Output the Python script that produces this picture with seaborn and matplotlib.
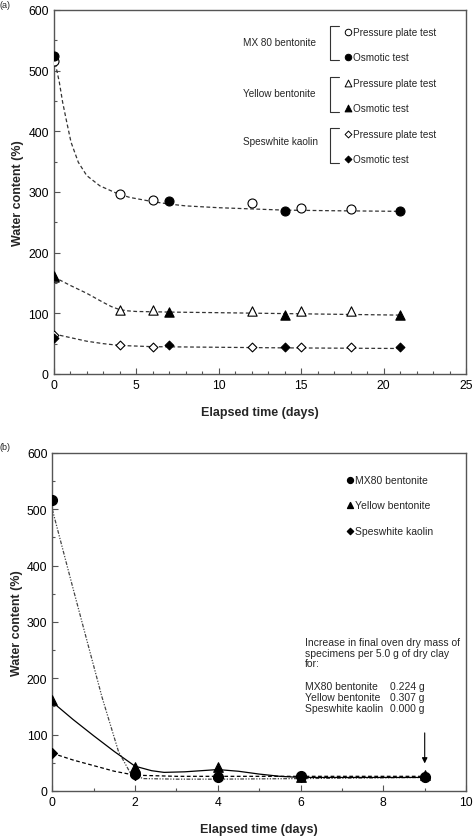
import numpy as np
import pandas as pd
import seaborn as sns
import matplotlib.pyplot as plt
from matplotlib.ticker import MultipleLocator

sns.set_style('ticks')
plt.rcParams['font.family'] = ['Liberation Sans', 'DejaVu Sans']

# ---- (a) measured points ----
pp_days = [0, 4, 6, 12, 15, 18]
osm_days = [0, 7, 14, 21]
mx80_pp = [516, 297, 287, 281, 273, 272]
mx80_osm = [524, 285, 269, 269]
yellow_pp = [160, 106, 105, 104, 103, 103]
yellow_osm = [162, 102, 97, 97]
kaolin_pp = [65, 47, 45, 45, 45, 44]
kaolin_osm = [60, 47, 44, 44]

# fitted dashed curves
mx80_fit_days = [0, 0.08, 0.34, 0.54, 0.79, 1.05, 1.49, 2.0, 2.8, 3.8, 4.6, 6, 7, 8, 10, 12, 14, 17, 21]
mx80_fit = [522, 514, 481, 448, 415, 382, 349, 327, 310, 298, 291, 284, 280, 277, 274, 272, 270, 269, 268]
yellow_fit_days = [0, 1, 2, 3, 3.5, 4, 4.5, 5, 7, 10, 14, 21]
yellow_fit = [160, 146, 133, 118, 111, 106, 104, 103, 102, 101, 99.5, 97]
kaolin_fit_days = [0, 1, 2, 3, 4, 5, 6, 10, 14, 21]
kaolin_fit = [66, 60, 54, 50, 47, 46, 45, 44, 43, 42]

# ---- (b) ----
b_days = [0, 2, 4, 6, 9]
b_mx80 = [517, 30, 24, 26, 24]
b_yellow = [162, 43, 42, 25, 28]
b_kaolin = [67, 28, 25, 24, 24]

b_mx80_line_days = [0, 0.5, 1.2, 1.6, 1.9, 2.2, 3, 4, 6, 9]
b_mx80_line = [500, 360, 167, 70, 30, 22, 21, 21, 22, 24]
b_yellow_line_days = [0, 0.5, 1, 1.5, 2, 2.4, 2.7, 3.2, 3.6, 4, 4.5, 5, 5.5, 6, 7, 8, 9]
b_yellow_line = [158, 127, 98, 70, 44, 36, 33, 34, 36, 38, 35, 30, 26, 24, 24, 24, 24]
b_kaolin_line_days = [0, 0.5, 1, 1.5, 2, 3, 4, 6, 9]
b_kaolin_line = [67, 55, 45, 35, 28, 26, 26, 26, 26]

materials_a = ['MX 80 bentonite', 'Yellow bentonite', 'Speswhite kaolin']
materials_b = ['MX80 bentonite', 'Yellow bentonite', 'Speswhite kaolin']
mass_increase = ['0.224 g', '0.307 g', '0.000 g']

frame = '#555555'
tick_fs = 8.8
label_fs = 9
small_fs = 7.2
note_fs = 7.5

fig, (ax1, ax2) = plt.subplots(2, 1, figsize=(4.74, 8.37), dpi=100)
ax1.set_position([0.1133, 0.552, 0.870, 0.435])
ax2.set_position([0.1103, 0.0538, 0.873, 0.4038])

dash = (0, (3, 2))

def scatter(ax, x, y, marker, filled, s):
    sns.scatterplot(x=x, y=y, ax=ax, marker=marker, s=s,
                    color='black' if filled else 'white',
                    edgecolor='black', linewidth=0.8, zorder=3, legend=False)

# ---- panel (a) ----
for d, v in [(mx80_fit_days, mx80_fit), (yellow_fit_days, yellow_fit), (kaolin_fit_days, kaolin_fit)]:
    sns.lineplot(x=d, y=v, ax=ax1, color='#333333', lw=0.9, linestyle=dash)

scatter(ax1, pp_days, mx80_pp, 'o', False, 42)
scatter(ax1, osm_days, mx80_osm, 'o', True, 42)
scatter(ax1, pp_days, yellow_pp, '^', False, 45)
scatter(ax1, osm_days, yellow_osm, '^', True, 45)
scatter(ax1, pp_days, kaolin_pp, 'D', False, 20)
scatter(ax1, osm_days, kaolin_osm, 'D', True, 20)

ax1.set_xlim(0, 25)
ax1.set_ylim(0, 600)
ax1.xaxis.set_major_locator(MultipleLocator(5))
ax1.xaxis.set_minor_locator(MultipleLocator(1))
ax1.yaxis.set_major_locator(MultipleLocator(100))
ax1.yaxis.set_minor_locator(MultipleLocator(50))

# manual legend for (a)
leg_rows = [(564, 523, 547), (480, 438, 463), (396, 354, 384)]
leg_markers = ['o', '^', 'D']
leg_sizes = [22, 24, 12]
for (y_pp, y_osm, y_lab), m, sz, name in zip(leg_rows, leg_markers, leg_sizes, materials_a):
    ax1.text(11.48, y_lab, name, fontsize=small_fs, ha='left', va='center')
    ax1.plot([17.3, 16.77, 16.77, 17.3], [y_pp + 10, y_pp + 10, y_osm - 6, y_osm - 6],
             color='#333333', lw=0.8)
    ax1.scatter([17.83], [y_pp], marker=m, s=sz, facecolor='white', edgecolor='black', lw=0.7, zorder=3)
    ax1.scatter([17.83], [y_osm], marker=m, s=sz, facecolor='black', edgecolor='black', lw=0.7, zorder=3)
    ax1.text(18.13, y_pp, 'Pressure plate test', fontsize=small_fs, ha='left', va='center')
    ax1.text(18.13, y_osm, 'Osmotic test', fontsize=small_fs, ha='left', va='center')

# ---- panel (b) ----
sns.lineplot(x=b_mx80_line_days, y=b_mx80_line, ax=ax2, color='#444444', lw=0.9,
             linestyle=(0, (3, 1.2, 1, 1.2, 1, 1.2)))
sns.lineplot(x=b_yellow_line_days, y=b_yellow_line, ax=ax2, color='black', lw=0.9)
sns.lineplot(x=b_kaolin_line_days, y=b_kaolin_line, ax=ax2, color='black', lw=0.9, linestyle=dash)

scatter(ax2, b_days, b_yellow, '^', True, 48)
scatter(ax2, b_days, b_kaolin, 'D', True, 26)
scatter(ax2, b_days, b_mx80, 'o', True, 52)

ax2.set_xlim(0, 10)
ax2.set_ylim(0, 600)
ax2.xaxis.set_major_locator(MultipleLocator(2))
ax2.xaxis.set_minor_locator(MultipleLocator(1))
ax2.yaxis.set_major_locator(MultipleLocator(100))
ax2.yaxis.set_minor_locator(MultipleLocator(50))

for y, m, sz, name in zip([552, 507, 462], ['o', '^', 'D'], [18, 18, 10], materials_b):
    ax2.scatter([7.2], [y], marker=m, s=sz, color='black', zorder=3)
    ax2.text(7.32, y, name, fontsize=note_fs, ha='left', va='center')

ax2.text(6.1, 273, 'Increase in final oven dry mass of\nspecimens per 5.0 g of dry clay\nfor:',
         fontsize=note_fs, ha='left', va='top', linespacing=1.05)
for y, name, val in zip([186, 166, 147], materials_b, mass_increase):
    ax2.text(6.1, y, name, fontsize=note_fs, ha='left', va='center')
    ax2.text(9.0, y, val, fontsize=note_fs, ha='right', va='center')

ax2.annotate('', xy=(9, 44), xytext=(9, 108),
             arrowprops=dict(arrowstyle='-|>', color='black', lw=0.8, mutation_scale=8))

for ax in (ax1, ax2):
    for sp in ax.spines.values():
        sp.set_visible(True)
        sp.set_color(frame)
        sp.set_linewidth(1.0)
    ax.tick_params(which='both', direction='in', colors=frame, labelcolor='black',
                   labelsize=tick_fs, top=False, right=False)
    ax.tick_params(which='major', length=4, width=0.8)
    ax.tick_params(which='minor', length=2.5, width=0.8)
    ax.set_xlabel('Elapsed time (days)', fontsize=label_fs, fontweight='bold', labelpad=11)
    ax.set_ylabel('Water content (%)', fontsize=label_fs, fontweight='bold', labelpad=3)

fig.text(0.0, 1 - 5 / 837, '(a)', fontsize=6.5, ha='left', va='center')
fig.text(0.0, 1 - 448 / 837, '(b)', fontsize=6.5, ha='left', va='center')

plt.savefig('out.png', dpi=100)
